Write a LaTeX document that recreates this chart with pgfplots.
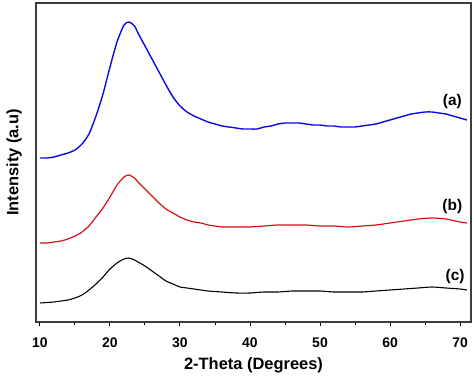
\documentclass[border=0pt]{standalone}
\usepackage{pgfplots}
\pgfplotsset{compat=1.18}
\usepackage{fontspec}
\setmainfont{Liberation Sans}
\definecolor{cblue}{RGB}{10,10,225}
\definecolor{cred}{RGB}{215,15,20}
\definecolor{spine}{RGB}{60,60,60}
\begin{document}
\begin{tikzpicture}
\begin{axis}[
  scale only axis,
  width=435bp, height=319bp,
  xmin=9.43, xmax=71.57,
  ymin=0, ymax=319,
  axis line style={spine, line width=1.2pt},
  xtick={10,20,...,70},
  minor xtick={15,25,...,65},
  ytick=\empty,
  xtick pos=bottom,
  tick align=outside,
  major tick length=4bp,
  minor tick length=3bp,
  tick style={black, line width=1pt},
  /pgf/number format/assume math mode=true,
  xticklabel style={font=\bfseries\fontsize{14}{15}\selectfont, yshift=-8bp},
  xlabel={2-Theta (Degrees)},
  ylabel={Intensity (a.u)},
  xlabel style={font=\bfseries\fontsize{16.5}{18}\selectfont, at={(axis description cs:0.5,-0.135)}, anchor=center},
  ylabel style={font=\bfseries\fontsize{16.5}{18}\selectfont, at={(axis description cs:-0.05,0.5)}, anchor=center},
  clip=false,
]
\addplot[cblue, line width=1.4pt, smooth, tension=0.4] coordinates {
(10,164)(11,164)(12,165)(13,167)(14,169)(15,172)(16,178)(17,188)(18,206)(19,228)
(20,255)(21,280)(22,297)(22.7,300)(23.5,296)(24,289)(25,276)(26,263)(27,250)(28,237)
(29,225)(30,216)(31,210)(32,206)(33,203)(34,200)(35,198)(36,196)(37,195)(38,194)
(39,193)(40,193)(41,193)(42,195)(43,196)(44,198)(45,199)(46,199)(47,199)(48,198)
(49,197)(50,197)(51,196)(52,196)(53,195)(54,195)(55,195)(56,196)(57,197)(58,198)
(59,200)(60,202)(61,204)(62,206)(63,208)(64,209)(65,210)(66,210)(67,209)(68,208)
(69,206)(70,204)(71,202)
};
\addplot[cred, line width=1.2pt, smooth, tension=0.4] coordinates {
(10,79)(11,79)(12,80)(13,81)(14,83)(15,86)(16,90)(17,96)(18,105)(19,114)
(20,125)(21,137)(22,145)(22.7,147)(23.5,144)(24,140)(25,133)(26,126)(27,119)(28,113)
(29,109)(30,105)(31,102)(32,100)(33,99)(34,97)(35,96)(36,95)(37,95)(38,95)
(39,95)(40,95)(42,96)(44,97)(46,97)(48,97)(50,96)(52,96)(54,95)(56,96)
(58,97)(60,99)(62,101)(64,103)(66,104)(68,103)(70,100)(71,99)
};
\addplot[black, line width=1.1pt, smooth, tension=0.4] coordinates {
(10,19)(12,20)(13,21)(14,22)(15,24)(16,27)(17,32)(18,38)(19,45)(20,53)
(21,59)(22,63)(22.7,64)(23.5,62)(24,60)(25,56)(26,51)(27,46)(28,41)(29,38)
(30,35)(31,34)(32,33)(34,31)(36,30)(38,29)(40,29)(42,30)(44,30)(46,31)
(48,31)(50,31)(52,30)(54,30)(56,30)(58,31)(60,32)(62,33)(64,34)(66,35)
(68,34)(70,33)(71,32)
};
\node[font=\bfseries\fontsize{15.5}{17}\selectfont] at (axis cs:68.9,220) {(a)};
\node[font=\bfseries\fontsize{15.5}{17}\selectfont] at (axis cs:68.9,115) {(b)};
\node[font=\bfseries\fontsize{15.5}{17}\selectfont] at (axis cs:69.3,45) {(c)};
\end{axis}
\path ([shift={(-36bp,-56bp)}]current axis.south west) rectangle ([shift={(3bp,3bp)}]current axis.north east);
\end{tikzpicture}
\end{document}
